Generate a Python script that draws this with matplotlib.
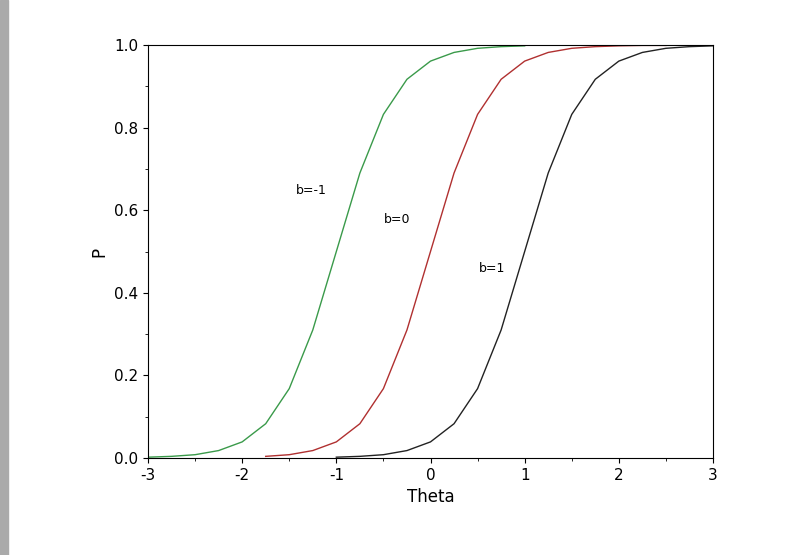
import matplotlib
matplotlib.use("Agg")
import matplotlib.pyplot as plt
plt.rcParams['axes.unicode_minus'] = False

theta_g = [-3, -2.75, -2.5, -2.25, -2, -1.75, -1.5, -1.25, -1, -0.75, -0.5, -0.25, 0, 0.25, 0.5, 0.75, 1]
p_g = [0.002, 0.004, 0.008, 0.018, 0.039, 0.083, 0.168, 0.31, 0.5, 0.69, 0.832, 0.917, 0.961, 0.982, 0.992, 0.996, 0.998]
theta_r = [-1.75, -1.5, -1.25, -1, -0.75, -0.5, -0.25, 0, 0.25, 0.5, 0.75, 1, 1.25, 1.5, 1.75, 2, 2.25, 2.5]
p_r = [0.004, 0.008, 0.018, 0.039, 0.083, 0.168, 0.31, 0.5, 0.69, 0.832, 0.917, 0.961, 0.982, 0.992, 0.996, 0.998, 0.999, 0.999]
theta_k = [-1, -0.75, -0.5, -0.25, 0, 0.25, 0.5, 0.75, 1, 1.25, 1.5, 1.75, 2, 2.25, 2.5, 2.75, 3]
p_k = [0.002, 0.004, 0.008, 0.018, 0.039, 0.083, 0.168, 0.31, 0.5, 0.69, 0.832, 0.917, 0.961, 0.982, 0.992, 0.996, 0.998]

fig = plt.figure(figsize=(8, 5.55), dpi=100)
ax = fig.add_axes([148/800, 1-458/555, (713-148)/800, (458-45)/555])
ax.plot(theta_g, p_g, color="#3a9a4a", lw=1)
ax.plot(theta_r, p_r, color="#b03030", lw=1)
ax.plot(theta_k, p_k, color="#222222", lw=1)
ax.set_xlim(-3, 3)
ax.set_ylim(0, 1)
ax.set_xticks([-3, -2, -1, 0, 1, 2, 3])
ax.set_xticks([-2.5, -1.5, -0.5, 0.5, 1.5, 2.5], minor=True)
ax.set_yticks([0, 0.2, 0.4, 0.6, 0.8, 1.0])
ax.set_yticks([0.1, 0.3, 0.5, 0.7, 0.9], minor=True)
ax.set_yticklabels(["0.0", "0.2", "0.4", "0.6", "0.8", "1.0"])
ax.tick_params(labelsize=11)
ax.set_xlabel("Theta", fontsize=12)
ax.set_ylabel("P", fontsize=12)
ax.text(-1.27, 0.64, "b=-1", fontsize=9, ha="center")
ax.text(-0.35, 0.57, "b=0", fontsize=9, ha="center")
ax.text(0.65, 0.45, "b=1", fontsize=9, ha="center")
fig.patches.append(plt.Rectangle((0, 0), 8/800, 1, transform=fig.transFigure, color="#aaaaaa"))
fig.savefig("out.png")
